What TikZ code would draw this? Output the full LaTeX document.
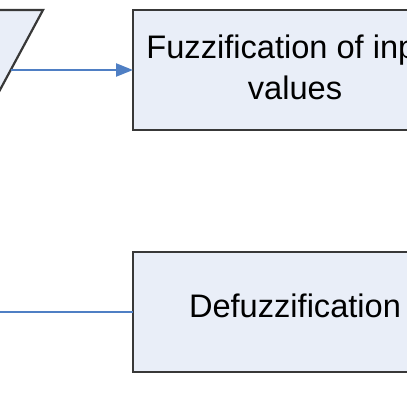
\documentclass[tikz,border=0pt]{standalone}
\usepackage{fontspec}
\setmainfont{Liberation Sans}
\usetikzlibrary{arrows.meta,shapes.geometric,positioning}
\definecolor{boxfill}{HTML}{E9EEF8}
\definecolor{boxline}{HTML}{383838}
\definecolor{flowblue}{HTML}{4F7FC4}
\tikzset{
  stage/.style={draw=boxline,fill=boxfill,line width=2.2pt,minimum width=324pt,
                minimum height=120pt,outer sep=0pt,align=center,
                font=\fontsize{32.6}{41}\selectfont},
  iobox/.style={trapezium,trapezium left angle=63.7,trapezium right angle=116.3,
                trapezium stretches=true,draw=boxline,fill=boxfill,line width=2.2pt,
                minimum width=260pt,minimum height=120pt,outer sep=0pt},
  flow/.style={draw=flowblue,line width=2.4pt}
}
\begin{document}
\begin{tikzpicture}
  \useasboundingbox (0,0) rectangle (407pt,-407pt);
  \clip (0,0) rectangle (407pt,-407pt);
  \node[stage,text depth=6pt] (fuzz) at (295pt,-70pt) {Fuzzification of input\\values};
  \node[stage,text depth=13pt,below=122pt of fuzz] (defuzz) {Defuzzification};
  \node[iobox,anchor=top right corner] (inp) at (43pt,-10pt) {};
  \coordinate[left=160pt of defuzz.west] (outp);
  % connectors
  \draw[flow,-{Triangle[length=17pt,width=13pt]}] (inp.east) -- (fuzz.west);
  \draw[flow,line width=2pt] (defuzz.west) -- (outp);
\end{tikzpicture}
\end{document}
